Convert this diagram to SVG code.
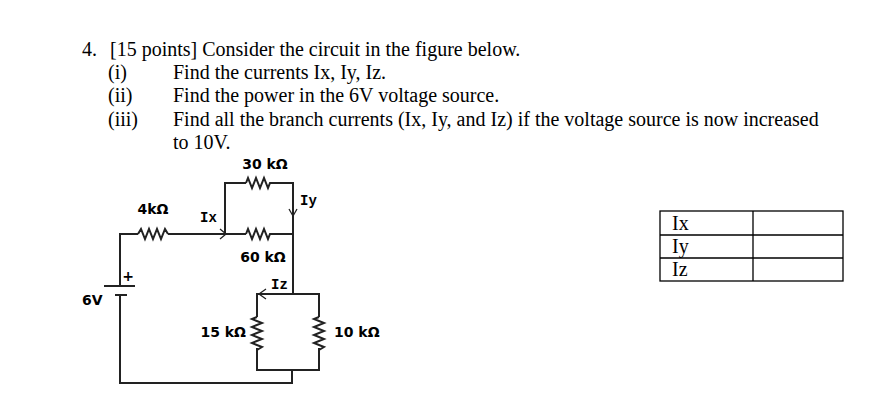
<svg xmlns="http://www.w3.org/2000/svg" width="891" height="410" viewBox="0 0 891 410">
<style>
.t{font-family:"Liberation Serif",serif;font-size:20px;fill:#000}
.c{font-family:"DejaVu Sans",sans-serif;font-size:14px;font-weight:bold;fill:#000}
.w{fill:none;stroke:#222;stroke-width:2}
.a{fill:none;stroke:#222;stroke-width:1.3}
</style>
<rect width="891" height="410" fill="#fff"/>
<g id="question">
<text class="t" x="82" y="56">4.</text><text class="t" x="110" y="56">[15 points] Consider the circuit in the figure below.</text>
<text class="t" x="108" y="79">(i)</text><text class="t" x="173" y="79">Find the currents Ix, Iy, Iz.</text>
<text class="t" x="108" y="102">(ii)</text><text class="t" x="173" y="102">Find the power in the 6V voltage source.</text>
<text class="t" x="108" y="126">(iii)</text><text class="t" x="173" y="126">Find all the branch currents (Ix, Iy, and Iz) if the voltage source is now increased</text>
<text class="t" x="173" y="149">to 10V.</text>
</g>
<g id="connectors">
<path class="w" d="M120,286 V234 H138 M168,234 H225 V183 H246 M272,183 H293 V294 M225,234 H246 M272,234 H293 M293,294 H319 V317 M319,348 V370 H257 V348 M257,317 V294 H293 M292,370 V383 H120 V295"/>
<path class="a" d="M220,229 L226,234 L220,239 M289,209 L293,216 L297,209 M266,289 L259,294 L266,299"/>
</g>
<g id="r4k"><path class="w" d="M138,234 l3,-5 l4,10 l4,-10 l4,10 l4,-10 l4,10 l4,-10 l3,5"/><text class="c" x="153" y="214" text-anchor="middle">4kΩ</text></g>
<g id="r30k"><path class="w" d="M246,183 l2,-5 l4,10 l4,-10 l4,10 l4,-10 l4,10 l2,-5 h2"/><text class="c" x="265" y="169" text-anchor="middle">30 kΩ</text></g>
<g id="r60k"><path class="w" d="M246,234 l2,-5 l4,10 l4,-10 l4,10 l4,-10 l4,10 l2,-5 h2"/><text class="c" x="263" y="262" text-anchor="middle">60 kΩ</text></g>
<g id="r15k"><path class="w" d="M257,317 l-5,2 l10,4 l-10,4 l10,4 l-10,4 l10,4 l-10,4 l10,4 l-5,3"/><text class="c" x="246" y="337" text-anchor="end">15 kΩ</text></g>
<g id="r10k"><path class="w" d="M319,317 l-5,2 l10,4 l-10,4 l10,4 l-10,4 l10,4 l-10,4 l10,4 l-5,3"/><text class="c" x="334" y="337">10 kΩ</text></g>
<g id="battery"><path class="w" d="M104,286 H135 M115,295 H127"/><text class="c" x="128" y="281" text-anchor="middle">+</text><text class="c" x="82" y="305">6V</text></g>
<g id="labels"><text class="c" style="font-family:'Liberation Mono',monospace" x="200" y="222">Ix</text><text class="c" style="font-family:'Liberation Mono',monospace" x="300" y="205">Iy</text><text class="c" style="font-family:'Liberation Mono',monospace" x="271" y="289">Iz</text></g>
<g id="table" fill="none" stroke="#000" stroke-width="1.3">
<rect x="660" y="211" width="183" height="70"/><path d="M660,235 H843 M660,258 H843 M753,211 V281"/>
<g stroke="none"><text class="t" x="672" y="230">Ix</text><text class="t" x="672" y="253">Iy</text><text class="t" x="672" y="276">Iz</text></g>
</g>
</svg>
